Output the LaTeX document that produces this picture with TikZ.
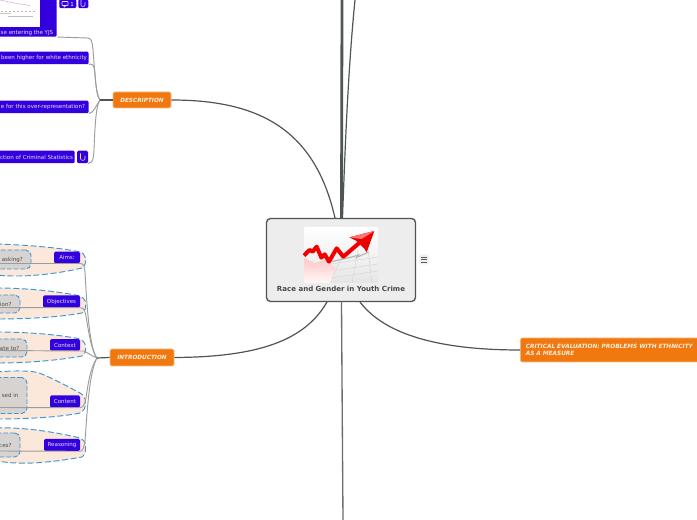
\documentclass[tikz,border=0pt]{standalone}
\usepackage{fontspec}
\setmainfont{DejaVu Sans}
\usetikzlibrary{calc}
\definecolor{orng}{HTML}{F0780F}
\definecolor{blu}{HTML}{3300DD}
\definecolor{peach}{HTML}{FCE8DA}
\definecolor{dash}{HTML}{3B97D3}
\definecolor{gnode}{HTML}{D6D3D1}
\definecolor{dark}{HTML}{4F5555}
\definecolor{branchc}{HTML}{9C9C9C}
\def\uu{0.75pt}
\tikzset{
 x=0.75pt,y=-0.75pt,
 sz/.style 2 args={minimum width=#1*\uu,minimum height=#2*\uu},
 topic/.style={rectangle,rounded corners=1.5pt,fill=orng,draw=orng!50!white,line width=0.5pt,text=white!88!orng,
   font=\fontsize{4.3pt}{5.2pt}\selectfont\bfseries\itshape,inner sep=0pt,align=center},
 bluebox/.style={rectangle,rounded corners=1pt,fill=blu,text=white!88!blu,
   font=\fontsize{4.15pt}{5pt}\selectfont,inner sep=0pt,align=center},
 graybox/.style={rectangle,rounded corners=4pt,fill=gnode,draw=dash,dash pattern=on 3.5pt off 1.5pt,line width=0.7pt,
   text=black!70,font=\fontsize{4.15pt}{5pt}\selectfont,inner sep=0pt},
 blob/.style={fill=peach,draw=dash,line width=0.7pt,dash pattern=on 4.5pt off 2pt},
 branch/.style={draw=branchc,line width=0.7pt},
 mainline/.style={draw=dark,line width=0.9pt},
 thickmain/.style={draw=dark,line width=2.1pt},
}
\begin{document}
\begin{tikzpicture}
\clip (0,0) rectangle (697,520);
\fill[white] (0,0) rectangle (697,520);

% anchors
\coordinate (hubD) at (100,100);
\coordinate (hubI) at (97,358);
\coordinate (ctop) at (341.5,218);
\coordinate (ctopb) at (335,218);
\coordinate (ctopc) at (342.5,218);
\coordinate (cbot) at (341.5,302);
\coordinate (cbotl) at (327,302);
\coordinate (cbotr) at (360,302);
\coordinate (endtop) at (342,0);
\coordinate (endtopb) at (355,0);
\coordinate (endbot) at (343,520);

% blobs
\path[blob] (-4,244) .. controls (30,245) and (60,248) .. (78,251.5) .. controls (83,252.5) and (85,255) .. (85.5,258) .. controls (86,263) and (85,266) .. (82,268) .. controls (65,272) and (40,276) .. (17,276) .. controls (10,276) and (5,276) .. (-4,275);
\path[blob] (-4,288) .. controls (30,288) and (60,292) .. (78,295.5) .. controls (83,297) and (85.5,300) .. (85.5,303) .. controls (86,308) and (85,311) .. (82,313) .. controls (60,317) and (30,319) .. (-4,319);
\path[blob] (-4,332) .. controls (30,332) and (60,335) .. (78,338.5) .. controls (83,340) and (85.5,343) .. (85.5,347) .. controls (86,351) and (85,354) .. (82,356) .. controls (60,360) and (30,363) .. (-4,363);
\path[blob] (-4,372) .. controls (10,371) and (25,370) .. (38,372.5) .. controls (50,377) and (65,385) .. (80,393) .. controls (84,395) and (85.5,399) .. (85.5,402) .. controls (86,407) and (84,411) .. (80,413) .. controls (60,417) and (30,419) .. (-4,419);
\path[blob] (-4,428) .. controls (20,427) and (50,431) .. (78,437.5) .. controls (83,439) and (85.5,442) .. (85.5,445) .. controls (86,451) and (85,455) .. (82,457) .. controls (60,461) and (35,464) .. (17,463) .. controls (10,463) and (5,462) .. (-4,461);

% gray nodes
\node[graybox,sz={41}{19},align=right,text width=24.5*\uu] (gaims) at (10.5,259.5) {asking?};
\node[graybox,sz={30}{18},align=right,text width=13*\uu] (gobj) at (5,304) {ion?};
\node[graybox,sz={37}{18},align=right,text width=21.5*\uu] (gctx) at (8.5,348) {ate to?};
\node[graybox,sz={37}{36},align=right,text width=20*\uu] (gcnt) at (8.5,395.5) {sed in};
\node[graybox,sz={30}{24},align=right,text width=13*\uu] (grea) at (5,445) {ces?};

% blue nodes of the introduction
\node[bluebox,sz={26}{11.5}] (aims) at (67,257.5) {Aims:};
\node[bluebox,sz={37}{12}] (obj) at (61.5,301.5) {Objectives};
\node[bluebox,sz={30}{11.5}] (ctx) at (65,345) {Context};
\node[bluebox,sz={30}{12}] (cnt) at (65,401.5) {Content};
\node[bluebox,sz={36}{12}] (rea) at (62,445) {Reasoning};

% blue nodes of the description
\node[bluebox,sz={67}{47},anchor=south east] (yjs) at (57,37) {};
\node[anchor=south east,text=white!88!blu,font=\fontsize{4.15pt}{5pt}\selectfont,inner sep=0pt] (yjstext) at (53.5,35.5) {se entering the YJS};
\fill[white] (-2,-5) rectangle (40,27);
\draw[draw=violet!40,line width=0.3pt] (0,0) -- (14,3) -- (30,5.5);
\foreach \xx in {1,5,...,33}{\fill[black!28] (\xx,11) rectangle +(2,0.8);}
\fill[black!22] (0,13) rectangle (11,13.8);
\fill[black!25] (8,15.7) rectangle (33,16.4);
\node[bluebox,sz={17}{9},anchor=south west] (cmt) at (59,8.5) {};
\node[text=white,font=\fontsize{4.1pt}{5pt}\selectfont,inner sep=0pt] (cmtn) at (72,4.5) {1};
\draw[white!85!blu,line width=0.45pt,rounded corners=0.5pt] (62,1.5) rectangle (68,5.5) (64,5.5) -- (64,7.5) -- (66,5.5);
\node[bluebox,sz={10}{9},anchor=south west] (lnk) at (78,8.5) {};
\draw[white!85!blu,line width=0.45pt] (81,0) -- (81,5) .. controls (81,7) and (85,7) .. (85,5) -- (85,2.5);

\node[bluebox,sz={94}{12.5},anchor=east,text width=90.5*\uu,align=right] (white) at (89,58) {been higher for white ethnicity};
\node[bluebox,sz={94}{12.5},anchor=east,text width=86.5*\uu,align=right] (over) at (89,107) {e for this over-representation?};
\node[bluebox,sz={80}{12.5},anchor=east,text width=76.5*\uu,align=right] (crim) at (75,157) {ction of Criminal Statistics};
\node[bluebox,sz={11}{12.5}] (crimi) at (82.5,157) {};
\draw[white!85!blu,line width=0.45pt] (80.5,153.5) -- (80.5,158.5) .. controls (80.5,161) and (85,161) .. (85,158.5) -- (85,156);

% branches of description
\draw[branch] (yjs.south east) -- (87,38) .. controls (92,38) and (92,42) .. (93,50) .. controls (95,75) and (96,95) .. (hubD);
\draw[branch] (white.south east) -- (90,64) .. controls (94,64) and (94.5,68) .. (95,74) .. controls (96,88) and (97,97) .. (hubD);
\draw[branch] (over.south east) .. controls (94,113) and (96,105) .. (hubD);
\draw[branch] (crimi.south east) -- (89,163) .. controls (93,163) and (93.5,158) .. (94,150) .. controls (95,125) and (96,105) .. (hubD);

% branches of introduction
\draw[branch] (-2,263.5) -- (aims.south east) .. controls (84,263.5) and (84.5,267) .. (85,272) .. controls (87,310) and (90,350) .. (hubI);
\draw[branch] (-2,307.5) -- (obj.south east) .. controls (84,307.5) and (85,311) .. (86,316) .. controls (89,335) and (92,352) .. (hubI);
\draw[branch] (-2,350.5) -- (ctx.south east) -- (84,351) .. controls (88,353) and (92,356) .. (hubI);
\draw[branch] (-2,407.5) -- (cnt.south east) .. controls (84,407) and (85,403) .. (86,398) .. controls (88,385) and (90,368) .. (hubI);
\draw[branch] (-2,451) -- (rea.south east) .. controls (83,451) and (84,447) .. (85,441) .. controls (87,415) and (89,372) .. (hubI);

% topics
\node[topic,sz={58}{16}] (desc) at (142,100) {DESCRIPTION};
\node[topic,sz={64}{17}] (intro) at (142,357.5) {INTRODUCTION};
\node[topic,sz={181}{24},anchor=west,text width=170*\uu,align=left,font=\fontsize{4.35pt}{5.2pt}\selectfont\bfseries\itshape] (crit) at (520,350) {CRITICAL EVALUATION: PROBLEMS WITH ETHNICITY AS A MEASURE};

\draw[mainline] (hubD) -- (desc.west);
\draw[mainline] (hubI) -- (intro.west);

% central node
\node[draw=dark,line width=1pt,fill=black!7,rounded corners=3pt,minimum width=149*\uu,minimum height=83*\uu,inner sep=0pt] (center) at (341,260) {};
\node[text=black!72,font=\fontsize{5.27pt}{6pt}\selectfont\bfseries,inner sep=0pt] (ctitle) at (341,289) {Race and Gender in Youth Crime};

% main connectors
\draw[thickmain] (ctop) -- (endtop);
\draw[mainline] (ctopc) .. controls (345,150) and (348,70) .. (endtopb);
\draw[mainline] (desc.east) .. controls (260,100) and (315,130) .. (ctopb);
\draw[mainline] (intro.east) .. controls (260,357) and (305,340) .. (cbotl);
\draw[mainline] (cbotr) .. controls (385,335) and (440,350) .. (crit.west);
\draw[draw=dark!85,line width=1pt] (cbot) .. controls (342,380) and (342.5,450) .. (endbot);

% central picture
\shade[top color=white,bottom color=black!10,rounded corners=1pt] (304,227) rectangle (378,283);
\begin{scope}
\clip (304,227) rectangle (378,283);
\foreach \a/\b in {345/330,358/352,368/372}{\draw[black!16,line width=0.35pt] (\a,250) -- (\b,283);}
\foreach \a in {265,272,279}{\draw[black!16,line width=0.35pt] (304,\a+3) -- (378,\a-8);}
\shade[top color=red!22,bottom color=red!3] (304,258) -- (315,263) -- (325,260) -- (336,268) -- (330,283) -- (304,283) -- cycle;
\end{scope}
\begin{scope}[shift={(260,205)},x=0.25pt,y=-0.25pt]
\draw[black!28,line width=0.9pt] (215,170) -- (280,155) -- (295,150) -- (290,157) -- (325,142);
\draw[red!95!black,line width=3pt,line join=round] (132,152) -- (148,135) -- (158,140) -- (170,125) -- (184,158) -- (194,148) -- (207,170) -- (230,130) -- (250,155) -- (300,112);
\fill[red!92!black] (343,78) -- (268,97) -- (290,108) -- (312,130) -- (320,142) -- cycle;
\fill[red!55!white] (343,78) -- (268,97) -- (305,102) -- cycle;
\end{scope}

% menu icon
\node[fill=black!6,rounded corners=1pt,sz={10}{10},inner sep=0pt] (menu) at (424,259.5) {};
\foreach \yy in {-2.5,0,2.5}{\draw[black!65,line width=0.4pt] ($(menu.center)+(-3,\yy)$) -- ($(menu.center)+(3,\yy)$);}
\end{tikzpicture}
\end{document}
